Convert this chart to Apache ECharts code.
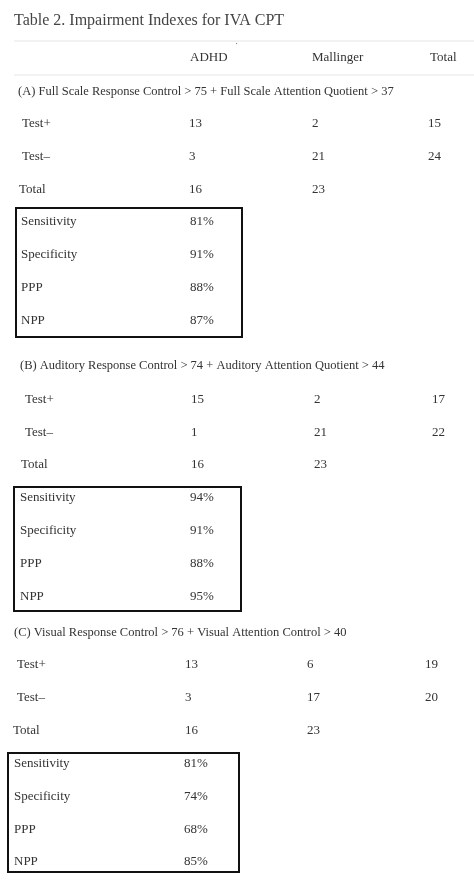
<!DOCTYPE html>
<html><head><meta charset="utf-8">
<script src="https://cdn.jsdelivr.net/npm/echarts@6/dist/echarts.min.js"></script>
<style>html,body{margin:0;padding:0;background:#fff}#c{width:474px;height:881px}</style>
</head><body><div id="c"></div>
<script>
const title = "Table 2. Impairment Indexes for IVA CPT";
const columns = ["ADHD", "Mallinger", "Total"];
const sectionTitles = [
  "(A) Full Scale Response Control > 75 + Full Scale Attention Quotient > 37",
  "(B) Auditory Response Control > 74 + Auditory Attention Quotient > 44",
  "(C) Visual Response Control > 76 + Visual Attention Control > 40"
];
const rowLabels = ["Test+", "Test\u2013", "Total"];
const countsA = [[13, 2, 15], [3, 21, 24], [16, 23, null]];
const countsB = [[15, 2, 17], [1, 21, 22], [16, 23, null]];
const countsC = [[13, 6, 19], [3, 17, 20], [16, 23, null]];
const metricLabels = ["Sensitivity", "Specificity", "PPP", "NPP"];
const metricsA = ["81%", "91%", "88%", "87%"];
const metricsB = ["94%", "91%", "88%", "95%"];
const metricsC = ["81%", "74%", "68%", "85%"];

// layout
const layout = [
  {head:92, rows:[124,157,190], rowX:[22,22,19], colX:[189,312,428], box:[16,208,242,337], met:[222,255,288,321], metX:21, pctX:190, headX:18},
  {head:366, rows:[400,433,465], rowX:[25,25,21], colX:[191,314,432], box:[14,487,241,611], met:[498,531,564,597], metX:20, pctX:190, headX:20},
  {head:633, rows:[665,698,731], rowX:[17,17,13], colX:[185,307,425], box:[8,753,239,872], met:[764,797,830,862], metX:14, pctX:184, headX:14}
];
const counts = [countsA, countsB, countsC];
const metrics = [metricsA, metricsB, metricsC];
const F = "'Liberation Serif','DejaVu Serif',serif";
const g = [];
function txt(x, y, s, size, col){
  g.push({type:'text', x:x, y:y, style:{text:String(s), fill:col||'#333', font:(size||13)+'px '+F, textVerticalAlign:'middle'}});
}
txt(14, 21, title, 16, '#444');
g.push({type:'line', shape:{x1:14,y1:41,x2:474,y2:41}, style:{stroke:'#e6e6e6', lineWidth:1}});
g.push({type:'line', shape:{x1:14,y1:75,x2:474,y2:75}, style:{stroke:'#e6e6e6', lineWidth:1}});
const hx = [190, 312, 430];
columns.forEach((c,i)=>txt(hx[i], 58, c, 13));
txt(235, 47, "\u02d9", 10, '#666');
layout.forEach((L, si)=>{
  txt(L.headX, L.head, sectionTitles[si], 12.5);
  rowLabels.forEach((r, ri)=>{
    txt(L.rowX[ri], L.rows[ri], r, 13);
    counts[si][ri].forEach((v, ci)=>{ if(v!==null) txt(L.colX[ci], L.rows[ri], v, 13); });
  });
  const b = L.box;
  g.push({type:'rect', shape:{x:b[0], y:b[1], width:b[2]-b[0], height:b[3]-b[1]}, style:{fill:'none', stroke:'#111', lineWidth:2}});
  metricLabels.forEach((m, mi)=>{
    txt(L.metX, L.met[mi], m, 13);
    txt(L.pctX, L.met[mi], metrics[si][mi], 13);
  });
});
const chart = echarts.init(document.getElementById('c'));
chart.setOption({animation:false, graphic:{elements:g}});
</script></body></html>
